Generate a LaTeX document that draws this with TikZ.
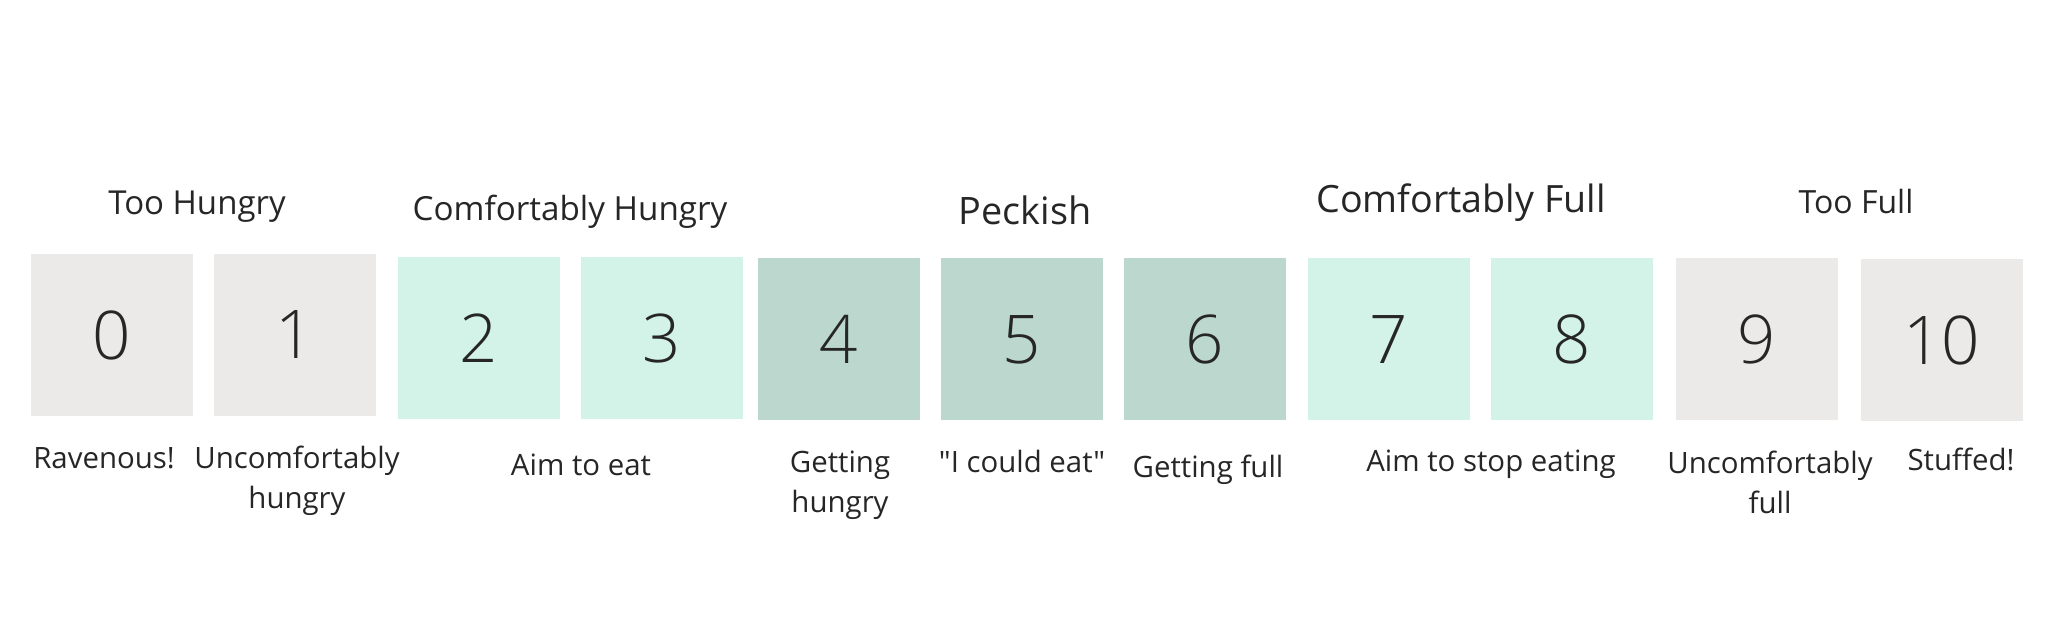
\documentclass[tikz,border=0pt]{standalone}
\usepackage{fontspec}
\setmainfont{Open Sans}[Ligatures=TeXOff]
\newfontfamily\numfont{Open Sans}[UprightFont={* Light}]
\usetikzlibrary{positioning}
\definecolor{toogrey}{RGB}{235,234,232}
\definecolor{comfmint}{RGB}{211,242,232}
\definecolor{pecksage}{RGB}{187,215,206}
\definecolor{inkgrey}{RGB}{38,38,38}

\begin{document}
\begin{tikzpicture}
[x=0.5pt,y=-0.5pt,
%
level/.style={shape=rectangle,inner sep=0pt,minimum width=81pt,minimum height=81pt,
   text=inkgrey,font=\numfont\fontsize{33.6}{36}\selectfont},
zone/.style={anchor=base,inner sep=0pt,text=inkgrey},
feel/.style={anchor=base,inner sep=0pt,text=inkgrey,align=center,
   font=\fontsize{14.7}{20}\selectfont}]
%
\useasboundingbox (0,0) rectangle (2048,640);
%
% the scale 0 ... 10
\foreach \x/\cx/\cy/\col in {0/111.5/335.5/toogrey,1/295/335/toogrey,
   2/478.5/338.5/comfmint,3/662/338.5/comfmint,
   4/839/339.5/pecksage,5/1022/339.5/pecksage,6/1205/339.5/pecksage,
   7/1389/339.5/comfmint,8/1572/339.5/comfmint,
   9/1757/339/toogrey,10/1941.5/340/toogrey}
   \node (s\x) [level,fill=\col] at (\cx,\cy) {\raisebox{-1.5pt}{\x}};
%%
% zones above
\node (tooHungry) [zone,font=\fontsize{16.5}{18}\selectfont] at (197,215) {Too Hungry};
\node (comfHungry) [zone,font=\fontsize{16.6}{18}\selectfont] at (570,221) {Comfortably Hungry};
\node (peckish) [zone,font=\fontsize{18.9}{20}\selectfont] at (1025,225) {Peckish};
\node (comfFull) [zone,font=\fontsize{18.8}{20}\selectfont] at (1461,213) {Comfortably Full};
\node (tooFull) [zone,font=\fontsize{16}{18}\selectfont] at (1856,214) {Too Full};
%%
% feelings below (two-line ones sit on their last line)
\node (ravenous) [feel] at (104,468) {Ravenous!};
\node (uncHungry) [feel] at (297,508) {Uncomfortably\\hungry};
\node (aimEat) [feel] at (581,475) {Aim to eat};
\node (getHungry) [feel] at (840,512) {Getting\\hungry};
\node (couldEat) [feel] at (1022,473) {"I could eat"};
\node (getFull) [feel] at (1208,477) {Getting full};
\node (aimStop) [feel] at (1491,472) {Aim to stop eating};
\node (uncFull) [feel] at (1770,513) {Uncomfortably\\full};
\node (stuffed) [feel] at (1961,471) {Stuffed!};
\end{tikzpicture}
\end{document}
